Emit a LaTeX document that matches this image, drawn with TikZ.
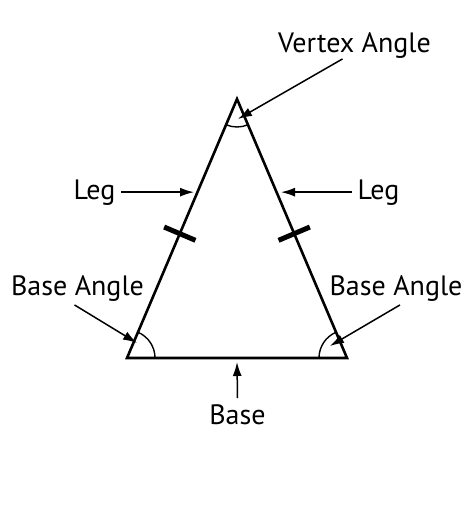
\documentclass[tikz,border=0pt]{standalone}
\usepackage{fontspec}
\setmainfont{PT Sans}
\usetikzlibrary{arrows.meta,calc}
\tikzstyle{figure} = [x = 1pt, y = -1pt]
\tikzstyle{sideLine} = [color=black, line width=2.6pt, line join=miter]
\tikzstyle{angleArc} = [color=black, line width=1.4pt]
\tikzstyle{tickLine} = [color=black, line width=5pt]
\tikzstyle{pointer} = [color=black, line width=1.5pt, -{Latex[length=14pt, width=9pt]}]
\tikzstyle{labelText} = [font=\fontsize{28}{32}\selectfont, inner sep=0pt, outer sep=6pt, anchor=base]
\newcommand{\arcRadius}{28pt}
\newcommand{\legTick}[2]{
  \coordinate (#1) at ($(#2)!0.48!(apex)$);
  \draw [tickLine] ($(#1)!17pt!90:(apex)$) -- ($(#1)!17pt!-90:(apex)$);
}

\begin{document}
\begin{tikzpicture}[figure]
  \useasboundingbox (0,0) rectangle (474,505);

  % corners of the triangle
  \coordinate (apex) at (237,99);
  \coordinate (leftBase) at (127,358);
  \coordinate (rightBase) at (347,358);
  \draw [sideLine] (leftBase) -- (apex) -- (rightBase) -- cycle;

  % angle marks
  \draw [angleArc] ($(apex)!\arcRadius!(leftBase)$) arc [start angle=247, end angle=293, radius=\arcRadius];
  \draw [angleArc] ($(leftBase)!\arcRadius!(rightBase)$) arc [start angle=0, end angle=67, radius=\arcRadius];
  \draw [angleArc] ($(rightBase)!\arcRadius!(leftBase)$) arc [start angle=180, end angle=113, radius=\arcRadius];

  % equal legs
  \legTick{leftTick}{leftBase}
  \legTick{rightTick}{rightBase}

  % arrow ends
  \coordinate (vertexTip) at (238,119);
  \coordinate (leftLegTip) at (194,192);
  \coordinate (rightLegTip) at (281,192);
  \coordinate (leftAngleTip) at (137,343);
  \coordinate (rightAngleTip) at (330,346);
  \coordinate (baseTip) at (237,362);

  \node [labelText] (vertexLabel) at (354.5,53) {Vertex Angle};
  \node [labelText] (leftLegLabel) at (94.5,199) {Leg};
  \node [labelText] (rightLegLabel) at (378.5,199) {Leg};
  \node [labelText] (leftAngleLabel) at (77.5,295) {Base Angle};
  \node [labelText] (rightAngleLabel) at (396,295) {Base Angle};
  \node [labelText] (baseLabel) at (237.5,424) {Base};

  \draw [pointer] ([xshift=-12pt, yshift=6pt]vertexLabel.south) -- (vertexTip);
  \draw [pointer] (leftLegLabel.east) -- (leftLegLabel.east -| leftLegTip);
  \draw [pointer] (rightLegLabel.west) -- (rightLegLabel.west -| rightLegTip);
  \draw [pointer] ([xshift=-3pt, yshift=2pt]leftAngleLabel.south) -- (leftAngleTip);
  \draw [pointer] ([xshift=4pt, yshift=2pt]rightAngleLabel.south) -- (rightAngleTip);
  \draw [pointer] (baseLabel.north) -- (baseTip);
\end{tikzpicture}
\end{document}
